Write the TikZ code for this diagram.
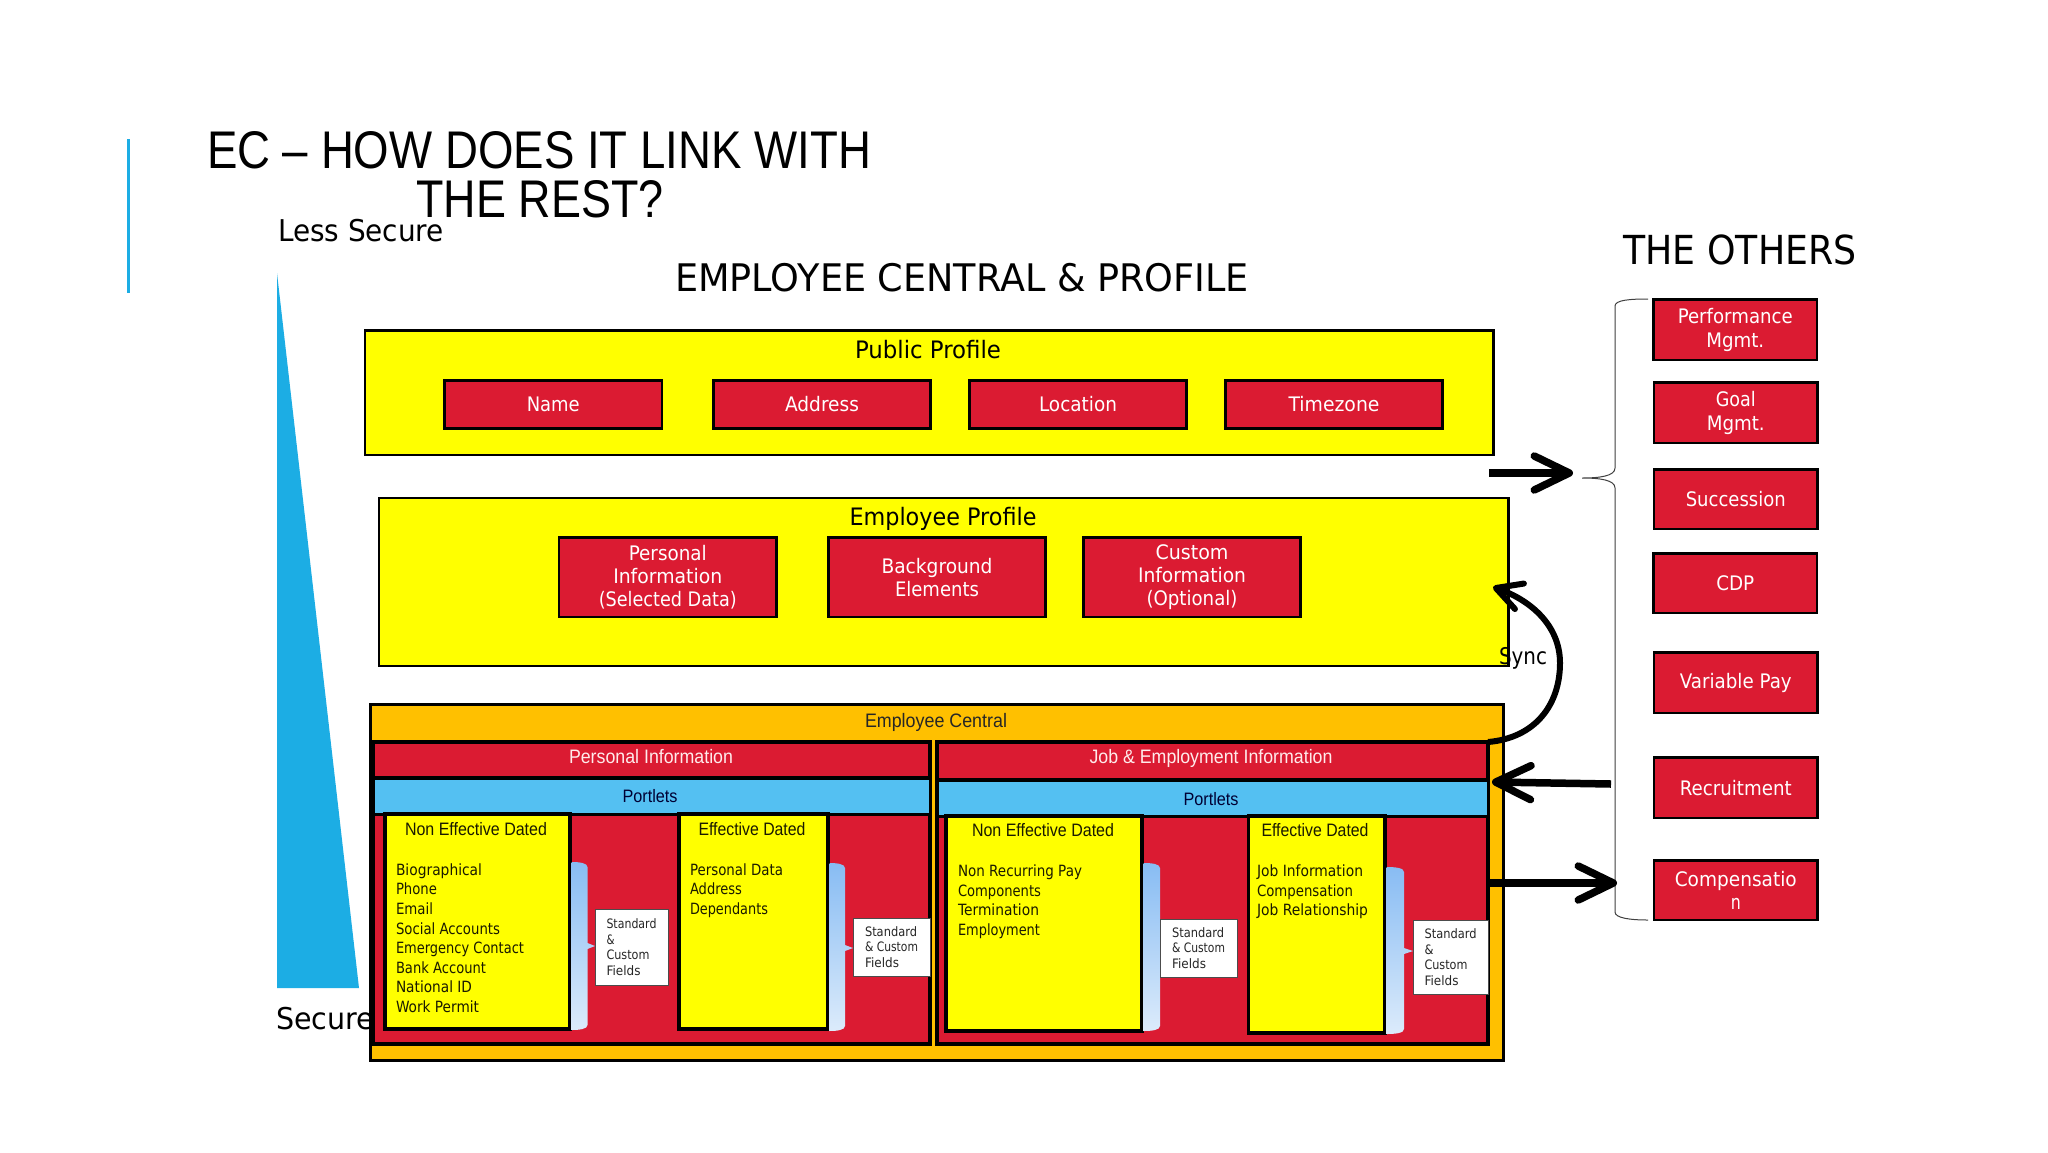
\documentclass[tikz,border=0pt]{standalone}
\usepackage{fontspec}
\usepackage{graphicx}
\usetikzlibrary{arrows.meta}
\setmainfont{DejaVu Sans}
\newfontfamily\arialf{Liberation Sans}
\definecolor{redbox}{HTML}{DB1B32}
\definecolor{yelbox}{HTML}{FFFF00}
\definecolor{orabox}{HTML}{FFC000}
\definecolor{blubar}{HTML}{54C0F2}
\definecolor{accent}{HTML}{1CADE4}
\definecolor{brktop}{HTML}{88BCF3}
\definecolor{brkbot}{HTML}{DCEBFB}
\definecolor{darktxt}{HTML}{1A1A00}
\newcommand\tw[2]{\resizebox{#1pt}{\height}{#2}}
\newcommand\bx[7]{%
  \pgfmathsetmacro\myw{#5-#3}\pgfmathsetmacro\myh{#6-#4}%
  \pgfmathsetmacro\mycx{(#3+#5)/2}\pgfmathsetmacro\mycy{(#4+#6)/2}%
  \node[#1,minimum width=\myw pt,minimum height=\myh pt] (#2) at (\mycx,\mycy) {#7};}
\newcommand\brkt[6]{% left, right, top, bottom, tipx, tipy
  \path[top color=brktop,bottom color=brkbot,draw=none]
    (#1,#3) .. controls (#2-8,#3) and (#2,#3+1) .. (#2,#3+5) -- (#2,#6-3) -- (#5,#6) -- (#2,#6+3)
    -- (#2,#4-5) .. controls (#2,#4-1) and (#2-8,#4) .. (#1,#4) -- cycle;}
\tikzset{
  base box/.style={rectangle,inner sep=0pt,outer sep=0pt,align=center},
  redrect/.style={base box,fill=redbox,draw=black,line width=2.5pt,text=white,font=\fontsize{20}{23}\selectfont},
  redside/.style={redrect,line width=2.8pt,font=\fontsize{20}{23.5}\selectfont},
  yelrect/.style={base box,fill=yelbox,draw=black,line width=2.5pt},
  yelinner/.style={base box,fill=yelbox,draw=black,line width=3.5pt},
  panel/.style={base box,fill=redbox,draw=black,line width=3.5pt},
  barblue/.style={base box,fill=blubar,draw=black,line width=3pt},
  orange box/.style={base box,fill=orabox,draw=black,line width=3pt},
  whitebox/.style={base box,fill=white,draw=black!70,line width=1pt,align=left,text=black!85,font=\fontsize{13}{15.6}\selectfont},
  ptitle/.style={inner sep=0pt,outer sep=0pt,anchor=base},
  arl/.style={inner sep=0pt,outer sep=0pt,anchor=base,text=black!85,font=\arialf\fontsize{19.5}{23}\selectfont},
  listtxt/.style={inner sep=0pt,outer sep=0pt,anchor=north west,align=left,text=darktxt,font=\fontsize{15.5}{19.6}\selectfont},
  bigarrow/.style={line width=7.5pt,-{Straight Barb[length=35pt,width=34pt,round]}},
  syncarrow/.style={line width=6pt,-{Straight Barb[length=25pt,width=27pt,round]}},
  brace line/.style={draw=black!75,line width=1pt}
}
\begin{document}
\begin{tikzpicture}[x=1pt,y=-1pt]
\useasboundingbox (0,0) rectangle (2048,1152);
\fill[white] (0,0) rectangle (2048,1152);
% accent and title
\fill[accent] (126.5,139) rectangle (130,293);
\node[ptitle,font=\arialf\fontsize{53}{53}\selectfont] (t1) at (539,168) {\tw{664}{EC – HOW DOES IT LINK WITH}};
\node[ptitle,font=\arialf\fontsize{53}{53}\selectfont] (t2) at (540,217) {\tw{247}{THE REST?}};
\node[ptitle,anchor=base west,font=\fontsize{30}{30}\selectfont] (lesssec) at (278,241) {\tw{166}{Less Secure}};
\node[ptitle,anchor=base west,font=\fontsize{30}{30}\selectfont] (secure) at (276,1029) {\tw{98}{Secure}};
\fill[accent] (277,273) -- (359,988) -- (277,988) -- cycle;
\node[ptitle,font=\fontsize{38}{38}\selectfont] (emph) at (962,291) {\tw{574}{EMPLOYEE CENTRAL \& PROFILE}};
\node[ptitle,font=\fontsize{40}{40}\selectfont] (others) at (1740,264) {\tw{233}{THE OTHERS}};
% Public profile
\bx{yelrect}{pub}{365}{330.5}{1493.5}{455}{}
\node[ptitle,font=\fontsize{24}{24}\selectfont] (publbl) at (928,358) {\tw{146}{Public Profile}};
\bx{redrect}{name}{444.5}{380.5}{662}{428.5}{\tw{53}{Name}}
\bx{redrect}{addr}{713.5}{380.5}{930.5}{428.5}{\tw{74}{Address}}
\bx{redrect}{loc}{969.5}{380.5}{1186.5}{428.5}{\tw{78}{Location}}
\bx{redrect}{tz}{1225.5}{380.5}{1442.5}{428.5}{\tw{91}{Timezone}}
% Employee profile
\bx{yelrect}{emp}{379}{498}{1508.5}{666}{}
\node[ptitle,font=\fontsize{24}{24}\selectfont] (emplbl) at (943,525) {\tw{187}{Employee Profile}};
\bx{redrect}{persinf}{559}{537.5}{776.5}{617}{\tw{78}{Personal}\\\tw{109}{Information}\\\tw{138}{(Selected Data)}}
\bx{redrect}{backg}{828.5}{537.5}{1045.5}{617}{\tw{111}{Background}\\\tw{84}{Elements}}
\bx{redrect}{custinf}{1083.5}{537.5}{1300.5}{617}{\tw{73}{Custom}\\\tw{108}{Information}\\\tw{91}{(Optional)}}
% Employee Central
\bx{orange box}{ec}{370}{704}{1503}{1060}{}
\node[arl] (eclbl) at (936,727) {\tw{142}{Employee Central}};
% Personal panel
\bx{panel}{pers}{373}{742}{930}{1044}{}
\draw[line width=3.5pt] (pers.west |- 0,778) -- (pers.east |- 0,778);
\node[arl,text=white!92!red] (perslbl) at (651,763) {\tw{164}{Personal Information}};
\bx{barblue}{pbar}{373}{778}{930}{814}{}
\node[arl,text=black!80!blue,font=\arialf\fontsize{18}{20}\selectfont] (pbarlbl) at (650,802) {\tw{55}{Portlets}};
\bx{yelinner}{pne}{385}{814}{570}{1029}{}
\node[ptitle,text=darktxt,font=\arialf\fontsize{18}{20}\selectfont] (pnelbl) at (476,835) {\tw{142}{Non Effective Dated}};
\node[listtxt] (pnel) at (396,863.5) {\tw{86}{Biographical}\\\tw{41}{Phone}\\\tw{37}{Email}\\\tw{104}{Social Accounts}\\\tw{128}{Emergency Contact}\\\tw{90}{Bank Account}\\\tw{76}{National ID}\\\tw{83}{Work Permit}};
\brkt{571.5}{587.5}{862}{1030}{595}{946}
\bx{whitebox}{pnew}{595}{909}{668}{985}{\tw{50}{Standard}\\\tw{8}{\&}\\\tw{43}{Custom}\\\tw{34}{Fields}}
\bx{yelinner}{ped}{679}{814}{828}{1029}{}
\node[ptitle,text=darktxt,font=\arialf\fontsize{18}{20}\selectfont] (pedlbl) at (752,835) {\tw{107}{Effective Dated}};
\node[listtxt] (pedl) at (690,863.5) {\tw{93}{Personal Data}\\\tw{52}{Address}\\\tw{78}{Dependants}};
\brkt{829.5}{845}{863}{1031}{853}{948}
\bx{whitebox}{pedw}{853}{918}{930}{976}{\tw{52}{Standard}\\\tw{53}{\& Custom}\\\tw{34}{Fields}}
% Job panel
\bx{panel}{job}{937}{742}{1488}{1044}{}
\draw[line width=3.5pt] (job.west |- 0,780) -- (job.east |- 0,780);
\node[arl,text=white!92!red] (joblbl) at (1211,763) {\tw{243}{Job \& Employment Information}};
\bx{barblue}{jbar}{937}{780}{1488}{816}{}
\node[arl,text=black!80!blue,font=\arialf\fontsize{18}{20}\selectfont] (jbarlbl) at (1211,805) {\tw{55}{Portlets}};
\bx{yelinner}{jne}{946}{816}{1142}{1031}{}
\node[ptitle,text=darktxt,font=\arialf\fontsize{18}{20}\selectfont] (jnelbl) at (1043,836) {\tw{142}{Non Effective Dated}};
\node[listtxt] (jnel) at (958,865) {\tw{124}{Non Recurring Pay}\\\tw{83}{Components}\\\tw{81}{Termination}\\\tw{82}{Employment}};
\brkt{1143.5}{1160}{863}{1031}{1160}{947}
\bx{whitebox}{jnew}{1160}{919}{1237}{977}{\tw{52}{Standard}\\\tw{53}{\& Custom}\\\tw{34}{Fields}}
\bx{yelinner}{jed}{1248.5}{816}{1385}{1033}{}
\node[ptitle,text=darktxt,font=\arialf\fontsize{18}{20}\selectfont] (jedlbl) at (1315,836) {\tw{107}{Effective Dated}};
\node[listtxt] (jedl) at (1257,865) {\tw{106}{Job Information}\\\tw{96}{Compensation}\\\tw{111}{Job Relationship}};
\brkt{1386.5}{1404}{867}{1034}{1413}{951}
\bx{whitebox}{jedw}{1413}{920}{1488}{994}{\tw{52}{Standard}\\\tw{9}{\&}\\\tw{43}{Custom}\\\tw{34}{Fields}}
% Right column
\bx{redside}{perf}{1653.5}{299.5}{1817}{360}{\tw{115}{Performance}\\\tw{58}{Mgmt.}}
\bx{redside}{goal}{1654}{382.5}{1817.5}{443}{\tw{40}{Goal}\\\tw{58}{Mgmt.}}
\bx{redside}{succ}{1654}{469.5}{1817.5}{529}{\tw{100}{Succession}}
\bx{redside}{cdp}{1653.5}{553.5}{1817}{613}{\tw{38}{CDP}}
\bx{redside}{varp}{1654}{652.5}{1817.5}{713}{\tw{112}{Variable Pay}}
\bx{redside}{recr}{1654}{757.5}{1817.5}{818}{\tw{112}{Recruitment}}
\bx{redside}{comp}{1654}{860.5}{1817.5}{920}{\tw{122}{Compensatio}\\\tw{10}{n}}
% Brace
\draw[brace line] (1648,299) .. controls (1630,299) and (1615,300) .. (1615,306) -- (1615,468)
  .. controls (1615,476) and (1600,478) .. (1582,478)
  .. controls (1600,478) and (1615,480) .. (1615,488) -- (1615,912)
  .. controls (1615,918) and (1630,920) .. (1648,920);
% Arrows
\coordinate (a1s) at (1489,473);
\coordinate (a1e) at (1573,473);
\coordinate (a3s) at (1611,784);
\coordinate (a3e) at (1492,782);
\coordinate (a4s) at (1490,883);
\coordinate (a4e) at (1617,883);
\coordinate (synce) at (1493,587);
\draw[bigarrow] (a1s) -- (a1e);
\draw[bigarrow] (a3s) -- (a3e);
\draw[bigarrow] (a4s) -- (a4e);
\draw[syncarrow] (job.north east) .. controls (1535,738) and (1560,705) .. (1560,663)
  .. controls (1560,625) and (1530,600) .. (synce);
\node[ptitle,anchor=base west,font=\fontsize{23}{23}\selectfont] (sync) at (1499,664) {\tw{48}{Sync}};
\end{tikzpicture}
\end{document}
